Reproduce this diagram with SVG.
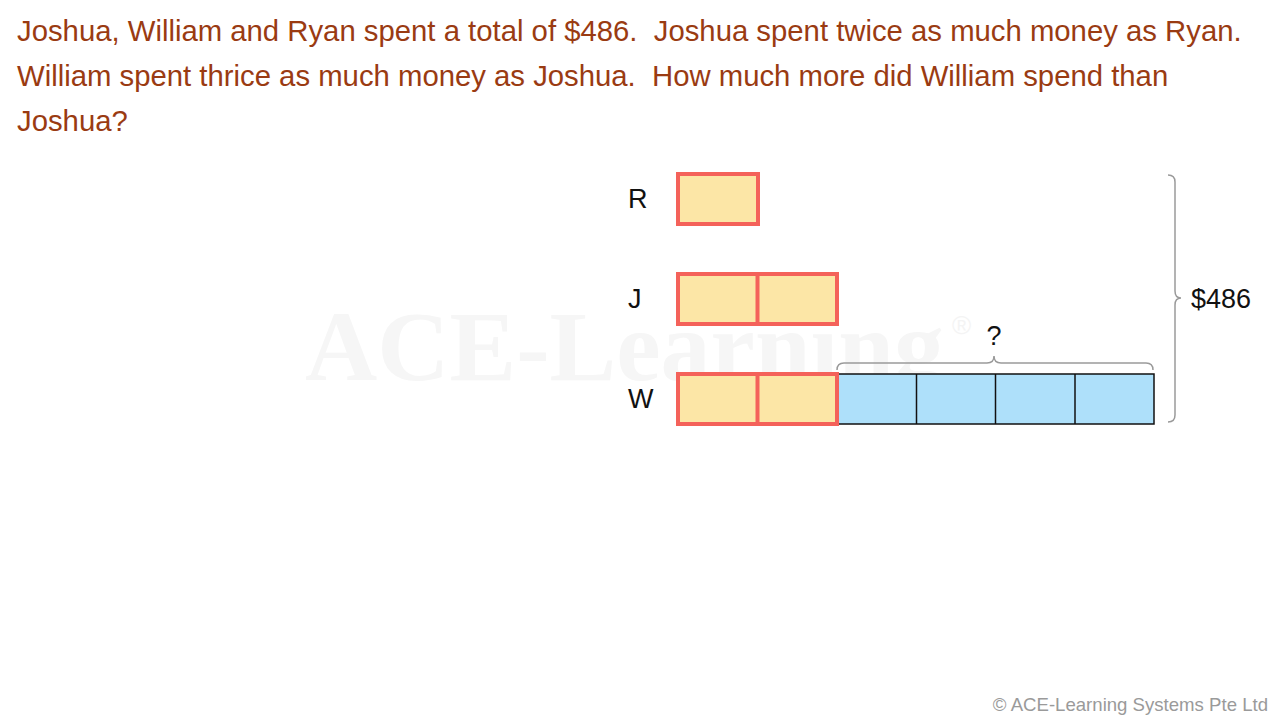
<svg xmlns="http://www.w3.org/2000/svg" width="1280" height="720" viewBox="0 0 1280 720">
<style>
.q{font-family:"Liberation Sans",Arial,sans-serif;font-size:29.3px;fill:#9a3b12;white-space:pre}
.lbl{font-family:"Liberation Sans",Arial,sans-serif;font-size:27px;fill:#111}
.y{fill:#fce6a6;stroke:#f4625a;stroke-width:4}
.b{fill:#aee0fa;stroke:#111;stroke-width:1.5}
.br{fill:none;stroke:#9a9a9a;stroke-width:1.5}
.dv{stroke:#f4625a;stroke-width:4}
.bd{stroke:#111;stroke-width:1.5}
</style>
<rect width="1280" height="720" fill="#fff"/>
<g id="watermark">
<text x="305" y="380" font-family="Liberation Serif,serif" font-weight="bold" font-size="100" fill="#f6f6f6">ACE-Learning</text>
<text x="952" y="334" font-family="Liberation Sans,sans-serif" font-size="26" fill="#f4f4f4">®</text>
</g>
<g id="question">
<text class="q" x="17" y="41">Joshua, William and Ryan spent a total of $486.  Joshua spent twice as much money as Ryan.</text>
<text class="q" x="17" y="86">William spent thrice as much money as Joshua.  How much more did William spend than</text>
<text class="q" x="17" y="131">Joshua?</text>
</g>
<g id="R">
<text class="lbl" x="628" y="208">R</text>
<rect class="y" x="678" y="174" width="80" height="50"/>
</g>
<g id="J">
<text class="lbl" x="628" y="308">J</text>
<rect class="y" x="678" y="274" width="159" height="50"/>
<line class="dv" x1="757.5" y1="274" x2="757.5" y2="324"/>
</g>
<g id="W">
<text class="lbl" x="628" y="408">W</text>
<rect class="b" x="837" y="374" width="317" height="50"/>
<line class="bd" x1="916.5" y1="374" x2="916.5" y2="424"/>
<line class="bd" x1="995.5" y1="374" x2="995.5" y2="424"/>
<line class="bd" x1="1075" y1="374" x2="1075" y2="424"/>
<rect class="y" x="678" y="374" width="159" height="50"/>
<line class="dv" x1="757.5" y1="374" x2="757.5" y2="424"/>
</g>
<g id="connectors">
<path class="br" d="M837,370 Q837,363 844,363 L987,363 Q994,363 994,356 Q994,363 1001,363 L1146,363 Q1153,363 1153,370"/>
<path class="br" d="M1168,175 Q1175,175 1175,182 L1175,291 Q1175,298 1181,298 Q1175,298 1175,305 L1175,415 Q1175,422 1168,422"/>
</g>
<g id="labels">
<text class="lbl" x="994" y="345" text-anchor="middle">?</text>
<text class="lbl" x="1191" y="308">$486</text>
</g>
<text x="1268" y="711" text-anchor="end" font-family="Liberation Sans,Arial,sans-serif" font-size="18.6" fill="#9a9a9a">© ACE-Learning Systems Pte Ltd</text>
</svg>
